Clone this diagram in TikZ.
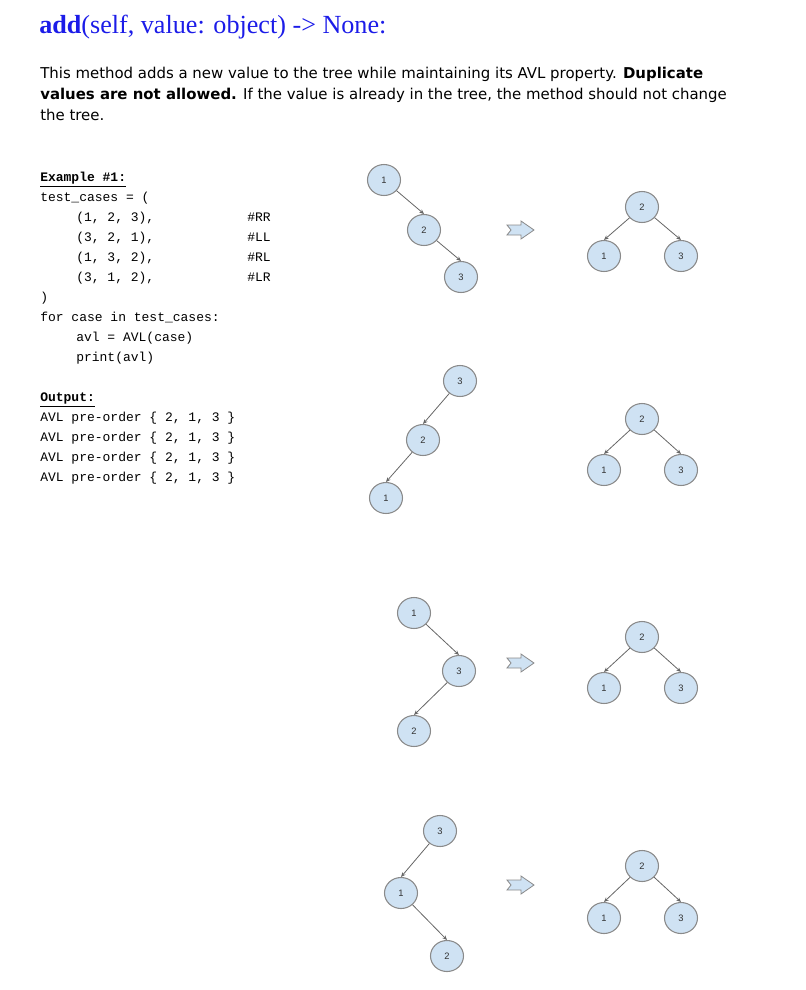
\documentclass[tikz,border=0pt]{standalone}
\usepackage{fontspec}
\setmainfont{DejaVu Sans}
\setmonofont{Liberation Mono}
\newfontfamily\titlefont{Liberation Serif}
\newfontfamily\numfont{Liberation Sans}
\usepackage{tikz}
\usetikzlibrary{arrows.meta,shapes.geometric}
\usepackage{xcolor}
\definecolor{avlTitle}{HTML}{1C1CE8}
\definecolor{avlFill}{HTML}{CFE2F3}
\definecolor{avlBorder}{HTML}{8A8A8A}
\definecolor{avlEdge}{HTML}{666666}
\definecolor{avlText}{HTML}{333333}
\tikzset{
    % tree nodes and links
    avlnode/.style={ellipse,draw=avlBorder,fill=avlFill,line width=0.8pt,minimum width=24.75pt,minimum height=23.25pt,inner sep=0pt,font=\numfont\fontsize{7}{8}\selectfont,text=avlText},
    edge/.style={-{Stealth[length=3.5pt,width=3pt]},draw=avlEdge,line width=0.6pt},
    bigarrow/.style={draw=avlBorder,fill=avlFill,line width=0.6pt,line join=miter}
}
\begin{document}
\begin{tikzpicture}[x=0.75pt,y=-0.75pt]
\useasboundingbox (0,0) rectangle (806,990);

% heading and description
\node[anchor=west,inner sep=0pt,text=avlTitle,font=\titlefont\fontsize{19.6}{23}\selectfont] at (39,27) (title) {\textbf{add}(self, value: object) -> None:};
\node[anchor=north west,inner sep=0pt,align=left,font=\fontsize{11.2}{15.75}\selectfont] at (40,67) (descr)
  {This method adds a new value to the tree while maintaining its AVL property. \textbf{Duplicate}\\
   \textbf{values are not allowed.} If the value is already in the tree, the method should not change\\
   the tree.};

% example code and output
\node[anchor=north west,inner sep=0pt,align=left,font=\ttfamily\fontsize{9.75}{15}\selectfont] at (40,172) (code)
  {\underline{\textbf{Example \#1:}}\\
   test\_cases = (\\
   \hspace*{27pt}\makebox[128.25pt][l]{(1, 2, 3),}\#RR\\
   \hspace*{27pt}\makebox[128.25pt][l]{(3, 2, 1),}\#LL\\
   \hspace*{27pt}\makebox[128.25pt][l]{(1, 3, 2),}\#RL\\
   \hspace*{27pt}\makebox[128.25pt][l]{(3, 1, 2),}\#LR\\
   )\\
   for case in test\_cases:\\
   \hspace*{27pt}avl = AVL(case)\\
   \hspace*{27pt}print(avl)\\[15pt]
   \underline{\textbf{Output:}}\\
   AVL pre-order \{ 2, 1, 3 \}\\
   AVL pre-order \{ 2, 1, 3 \}\\
   AVL pre-order \{ 2, 1, 3 \}\\
   AVL pre-order \{ 2, 1, 3 \}};

% RR case
\node[avlnode] at (384,180) (rr_1) {1};
\node[avlnode] at (424,230) (rr_2) {2};
\node[avlnode] at (461,277) (rr_3) {3};
\draw[edge] (rr_1) -- (rr_2.north);
\draw[edge] (rr_2) -- (rr_3.north);
\draw[bigarrow,shift={(520,230)}] (-13,-5) -- (1,-5) -- (1,-9) -- (14,0) -- (1,9) -- (1,5) -- (-13,5) -- (-9,0) -- cycle;
\node[avlnode] at (642,207) (rrres_2) {2};
\node[avlnode] at (604,256) (rrres_1) {1};
\node[avlnode] at (681,256) (rrres_3) {3};
\draw[edge] (rrres_2) -- (rrres_1.north);
\draw[edge] (rrres_2) -- (rrres_3.north);

% LL case
\node[avlnode] at (460,381) (ll_3) {3};
\node[avlnode] at (423,440) (ll_2) {2};
\node[avlnode] at (386,498) (ll_1) {1};
\draw[edge] (ll_3) -- (ll_2.north);
\draw[edge] (ll_2) -- (ll_1.north);
\node[avlnode] at (642,419) (llres_2) {2};
\node[avlnode] at (604,470) (llres_1) {1};
\node[avlnode] at (681,470) (llres_3) {3};
\draw[edge] (llres_2) -- (llres_1.north);
\draw[edge] (llres_2) -- (llres_3.north);

% RL case
\node[avlnode] at (414,613) (rl_1) {1};
\node[avlnode] at (459,671) (rl_3) {3};
\node[avlnode] at (414,731) (rl_2) {2};
\draw[edge] (rl_1) -- (rl_3.north);
\draw[edge] (rl_3) -- (rl_2.north);
\draw[bigarrow,shift={(520,663)}] (-13,-5) -- (1,-5) -- (1,-9) -- (14,0) -- (1,9) -- (1,5) -- (-13,5) -- (-9,0) -- cycle;
\node[avlnode] at (642,637) (rlres_2) {2};
\node[avlnode] at (604,688) (rlres_1) {1};
\node[avlnode] at (681,688) (rlres_3) {3};
\draw[edge] (rlres_2) -- (rlres_1.north);
\draw[edge] (rlres_2) -- (rlres_3.north);

% LR case
\node[avlnode] at (440,831) (lr_3) {3};
\node[avlnode] at (401,893) (lr_1) {1};
\node[avlnode] at (447,956) (lr_2) {2};
\draw[edge] (lr_3) -- (lr_1.north);
\draw[edge] (lr_1) -- (lr_2.north);
\draw[bigarrow,shift={(520,885)}] (-13,-5) -- (1,-5) -- (1,-9) -- (14,0) -- (1,9) -- (1,5) -- (-13,5) -- (-9,0) -- cycle;
\node[avlnode] at (642,866) (lrres_2) {2};
\node[avlnode] at (604,918) (lrres_1) {1};
\node[avlnode] at (681,918) (lrres_3) {3};
\draw[edge] (lrres_2) -- (lrres_1.north);
\draw[edge] (lrres_2) -- (lrres_3.north);

\end{tikzpicture}
\end{document}
